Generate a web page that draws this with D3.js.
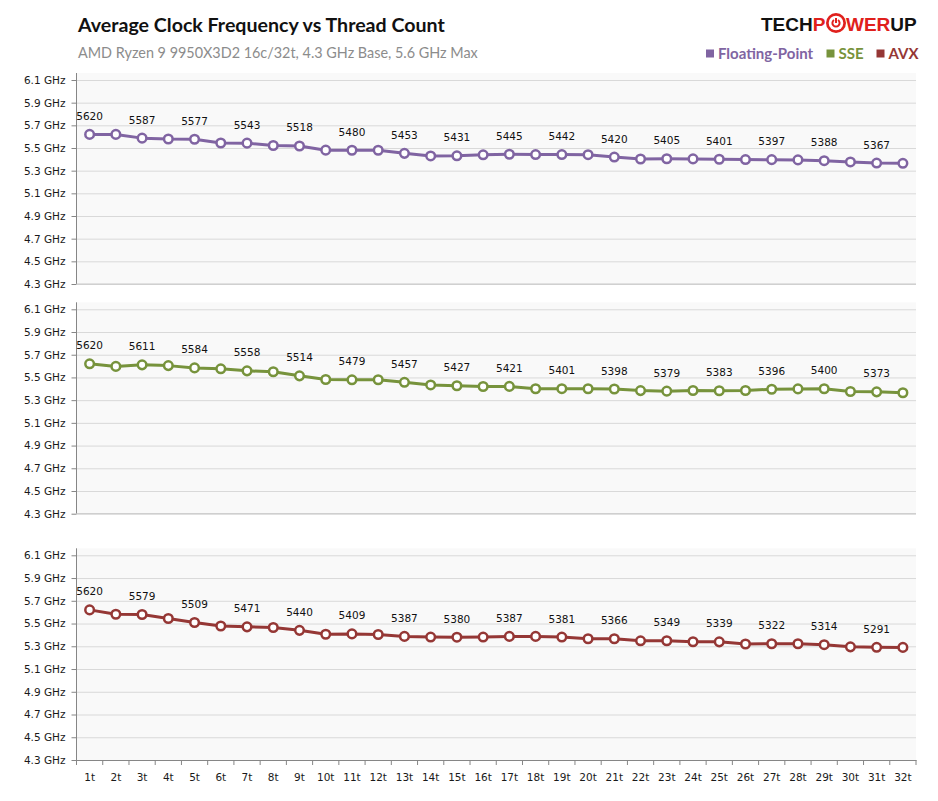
<!DOCTYPE html>
<html lang="en">
<head>
<meta charset="UTF-8">
<title>Average Clock Frequency vs Thread Count</title>
<style>
    body{
        margin: 0;
        background-color: #fff;
    }
    svg text{
        font-family: "DejaVu Sans", sans-serif;
    }
    .title{
        font-family: Lato, sans-serif !important;
        font-weight: bold;
        font-size: 19.6px;
        fill: #111;
    }
    .subtitle{
        font-family: Lato, sans-serif !important;
        font-size: 14.4px;
        fill: #8c8c8c;
    }
    .legend text{
        font-family: Lato, sans-serif !important;
        font-weight: bold;
        font-size: 15px;
    }
</style>
</head>
<body>
<div id="chart"></div>
<script src="https://d3js.org/d3.v7.min.js"></script>
<script>

// thread counts on the x axis
const threads = ["1t","2t","3t","4t","5t","6t","7t","8t","9t","10t","11t","12t","13t","14t","15t","16t",
                 "17t","18t","19t","20t","21t","22t","23t","24t","25t","26t","27t","28t","29t","30t","31t","32t"]

// average clock in MHz (odd counts are labelled in the picture, even ones)
const floatingPoint = [5620,5620,5587,5579,5577,5544,5543,5522,5518,5481,5480,5480,5453,5430,5431,5440,
                       5445,5442,5442,5441,5420,5403,5405,5404,5401,5398,5397,5395,5388,5377,5367,5365]
const sse = [5620,5597,5611,5604,5584,5576,5558,5550,5514,5482,5479,5480,5457,5434,5427,5420,
             5421,5400,5401,5400,5398,5384,5379,5385,5383,5385,5396,5399,5400,5376,5373,5365]
const avx = [5620,5582,5579,5544,5509,5478,5471,5465,5440,5406,5409,5404,5387,5381,5380,5381,
             5387,5387,5381,5366,5366,5348,5349,5340,5339,5320,5322,5322,5314,5295,5291,5290]

// y ticks in MHz
const yTicks = [4300,4500,4700,4900,5100,5300,5500,5700,5900,6100]

const seriesNames = ["Floating-Point","SSE","AVX"]
const seriesColors = ["#8064a2","#77933c","#953735"]

const W = 938, H = 801
const plotLeft = 76.5, plotRight = 916

let svg = d3.select("#chart")
    .append("svg")
    .attr("width", W)
    .attr("height", H)

// panel frames: y of 6.1 GHz line and 4.3 GHz line
let panels = [
    {name: seriesNames[0], values: floatingPoint, color: seriesColors[0], top: 80, bottom: 284},
    {name: seriesNames[1], values: sse, color: seriesColors[1], top: 309.3, bottom: 513.7},
    {name: seriesNames[2], values: avx, color: seriesColors[2], top: 555.3, bottom: 760}
]

let xScale = d3.scaleBand()
    .domain(threads)
    .range([plotLeft, plotRight])
let bw = xScale.bandwidth()

panels.forEach((p, pi) => {
    let yScale = d3.scaleLinear()
        .domain([4300, 6100])
        .range([p.bottom, p.top])

    let g = svg.append("g").attr("class", "panel")

    // plot background
    g.append("rect")
        .attr("x", plotLeft)
        .attr("y", p.top - 7)
        .attr("width", plotRight - plotLeft)
        .attr("height", p.bottom - p.top + 7)
        .style("fill", "#f9f9f9")

    // grid
    g.append("g")
        .attr("transform", `translate(${plotLeft},0)`)
        .call(d3.axisLeft(yScale).tickValues(yTicks).tickSize(-(plotRight - plotLeft)).tickFormat(""))
        .call(a => a.select(".domain").remove())
        .selectAll("line")
        .attr("stroke", "#d9d9d9")

    // y axis with labels
    g.append("g")
        .attr("transform", `translate(${plotLeft},0)`)
        .call(d3.axisLeft(yScale).tickValues(yTicks).tickSize(5).tickPadding(6)
            .tickFormat(d => (d / 1000).toFixed(1) + " GHz"))
        .call(a => a.select(".domain").remove())
        .call(a => a.selectAll("line").attr("stroke", "#868686"))
        .call(a => a.selectAll("text").style("font-size", "10.5px").attr("fill", "#1a1a1a"))

    g.append("line")
        .attr("x1", plotLeft).attr("x2", plotLeft)
        .attr("y1", p.top - 7).attr("y2", p.bottom)
        .attr("stroke", "#868686")

    if (pi == panels.length - 1) {
        // x axis only under the last panel
        g.append("g")
            .attr("transform", `translate(0,${p.bottom})`)
            .call(d3.axisBottom(xScale).tickSize(0).tickPadding(14))
            .call(a => a.select(".domain").attr("stroke", "#868686"))
            .call(a => a.selectAll("text").style("font-size", "10.5px").attr("fill", "#1a1a1a"))

        g.selectAll(".xtick")
            .data(threads.concat(["end"]))
            .join("line")
            .attr("class", "xtick")
            .attr("x1", d => d == "end" ? plotRight : xScale(d))
            .attr("x2", d => d == "end" ? plotRight : xScale(d))
            .attr("y1", p.bottom)
            .attr("y2", p.bottom + 5)
            .attr("stroke", "#868686")
    } else {
        g.append("line")
            .attr("x1", plotLeft).attr("x2", plotRight)
            .attr("y1", p.bottom).attr("y2", p.bottom)
            .attr("stroke", "#c8c8c8")
    }

    let pts = p.values.map((v, i) => ({t: threads[i], value: v, i: i}))

    let line = d3.line()
        .x(d => xScale(d.t) + bw / 2)
        .y(d => yScale(d.value))

    g.append("path")
        .attr("d", line(pts))
        .attr("stroke", p.color)
        .attr("stroke-width", 3)
        .attr("stroke-linejoin", "round")
        .style("fill", "none")

    g.selectAll(".dot")
        .data(pts)
        .join("circle")
        .attr("class", "dot")
        .attr("cx", d => xScale(d.t) + bw / 2)
        .attr("cy", d => yScale(d.value))
        .attr("r", 4.3)
        .style("fill", "white")
        .attr("stroke", p.color)
        .attr("stroke-width", 2.5)

    // value labels on every other point
    g.selectAll(".lbl")
        .data(pts.filter(d => d.i % 2 == 0))
        .join("text")
        .attr("class", "lbl")
        .attr("x", d => xScale(d.t) + bw / 2)
        .attr("y", d => yScale(d.value) - 14.5)
        .attr("text-anchor", "middle")
        .style("font-size", "10.5px")
        .attr("fill", "#111")
        .text(d => d.value)
})

// titles
svg.append("text")
    .attr("class", "title")
    .attr("x", 78).attr("y", 32)
    .text("Average Clock Frequency vs Thread Count")

svg.append("text")
    .attr("class", "subtitle")
    .attr("x", 78).attr("y", 58)
    .text("AMD Ryzen 9 9950X3D2 16c/32t, 4.3 GHz Base, 5.6 GHz Max")

// logo
let logo = svg.append("g").attr("transform", "translate(761,31)")
let logoText = logo.append("text")
    .style("font-family", "'Liberation Sans', sans-serif")
    .style("font-weight", "bold")
    .style("font-size", "19px")
logoText.append("tspan").attr("fill", "#111").text("TECH")
logoText.append("tspan").attr("fill", "#e0201c").text("P")
let cx = 75
logo.append("circle").attr("cx", cx).attr("cy", -8).attr("r", 10).attr("fill", "#e0201c")
logo.append("circle").attr("cx", cx).attr("cy", -8).attr("r", 7.3).attr("fill", "#fff")
logo.append("path")
    .attr("transform", `translate(${cx},-8)`)
    .attr("d", d3.arc()({innerRadius: 3.6, outerRadius: 3.6, startAngle: 0.6, endAngle: 2 * Math.PI - 0.6}))
    .attr("stroke", "#e0201c").attr("stroke-width", 2).attr("fill", "none")
logo.append("line")
    .attr("x1", cx).attr("x2", cx).attr("y1", -13).attr("y2", -8)
    .attr("stroke", "#e0201c").attr("stroke-width", 2)
let logoText2 = logo.append("text")
    .attr("x", 85)
    .style("font-family", "'Liberation Sans', sans-serif")
    .style("font-weight", "bold")
    .style("font-size", "19px")
logoText2.append("tspan").attr("fill", "#e0201c").text("WER")
logoText2.append("tspan").attr("fill", "#111").text("UP")

// legend
let legendX = [706, 826.5, 876.5]
let legend = svg.append("g").attr("class", "legend")
    .selectAll("g")
    .data(seriesNames)
    .join("g")
legend.append("rect")
    .attr("x", (d, i) => legendX[i])
    .attr("y", 49.5)
    .attr("width", 8).attr("height", 8)
    .style("fill", (d, i) => seriesColors[i])
legend.append("text")
    .attr("x", (d, i) => legendX[i] + 12)
    .attr("y", 58.5)
    .attr("fill", (d, i) => seriesColors[i])
    .text(d => d)

</script>
</body>
</html>
